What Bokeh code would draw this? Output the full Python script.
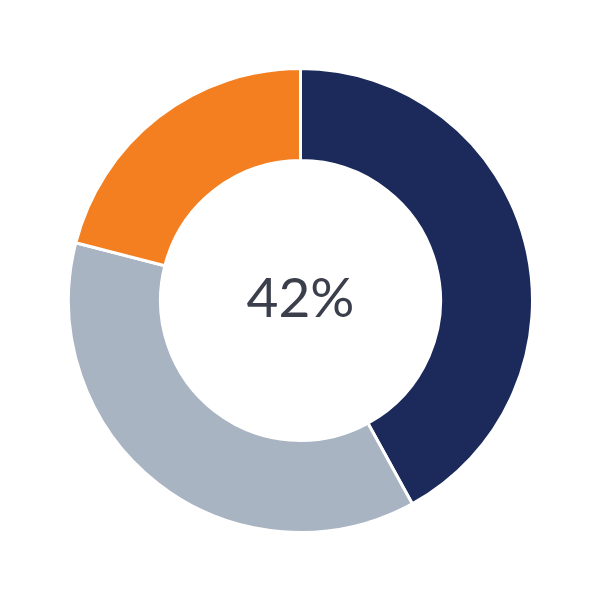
import numpy as np
from bokeh.plotting import figure
from bokeh.models import ColumnDataSource, Range1d
from bokeh.core.properties import value
from bokeh.embed import file_html
from bokeh.resources import INLINE

# share of each slice, in percent, clockwise from the top
labels = ["Navy", "Gray", "Orange"]
shares = [42, 37, 21]
colors = ["#1b2a5b", "#a9b4c2", "#f47f20"]
center_label = "42%"

fracs = np.array(shares) / sum(shares)
ends = np.cumsum(fracs) * 2 * np.pi
starts = np.concatenate([[0], ends[:-1]])

source = ColumnDataSource(data=dict(
    label=labels,
    start=np.pi / 2 - starts,
    end=np.pi / 2 - ends,
    color=colors,
))

p = figure(width=584, height=584, output_backend="svg", toolbar_location=None,
           x_range=Range1d(-300, 284), y_range=Range1d(-284, 300),
           min_border=0, outline_line_color=None)
p.axis.visible = False
p.grid.visible = False

p.annular_wedge(x=0, y=0, inner_radius=140, outer_radius=232,
                start_angle='start', end_angle='end', direction="clock",
                fill_color='color', line_color="white", line_width=3,
                source=source)

p.text(x=[0], y=[0], text=[center_label], text_align="center", text_baseline="middle",
       y_offset=-5, text_font=value("Lato"), text_font_size="55px", text_color="#3a3f4b")

open("out.html", "w").write(file_html(p, INLINE))
